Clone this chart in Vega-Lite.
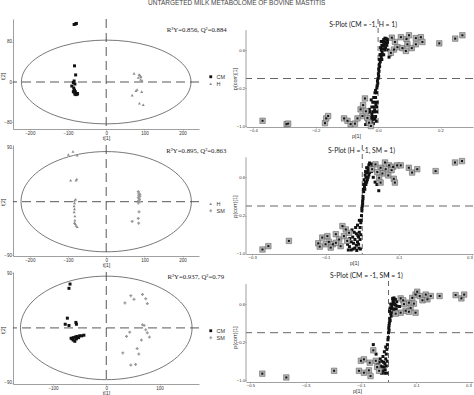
{
"$schema": "https://vega.github.io/schema/vega-lite/v6.json",
"padding": 0,
"title": {"text": "UNTARGETED MILK METABOLOME OF BOVINE MASTITIS", "anchor": "middle", "frame": "bounds", "fontSize": 6.5, "font": "Liberation Sans", "fontWeight": "normal", "color": "#444", "offset": 12},
"columns": 2,
"bounds": "flush",
"align": "each",
"spacing": {"row": 16, "column": 47},
"resolve": {"scale": {"x": "independent", "y": "independent", "color": "independent", "shape": "independent"}, "legend": {"color": "independent", "shape": "independent"}},
"datasets": {
"s1": [{"t1":-84,"t2":114,"g":"CM"},{"t1":-80,"t2":115,"g":"CM"},{"t1":-78,"t2":116,"g":"CM"},{"t1":-83,"t2":32,"g":"CM"},{"t1":-80,"t2":14,"g":"CM"},{"t1":-86,"t2":-1,"g":"CM"},{"t1":-84,"t2":2,"g":"CM"},{"t1":-82,"t2":-4,"g":"CM"},{"t1":-90,"t2":-8,"g":"CM"},{"t1":-85,"t2":-12,"g":"CM"},{"t1":-83,"t2":-16,"g":"CM"},{"t1":-81,"t2":-19,"g":"CM"},{"t1":-84,"t2":-20,"g":"CM"},{"t1":-80,"t2":-22,"g":"CM"},{"t1":-78,"t2":-23,"g":"CM"},{"t1":-76,"t2":-24,"g":"CM"},{"t1":-82,"t2":-24,"g":"CM"},{"t1":-79,"t2":-25,"g":"CM"},{"t1":-75,"t2":-23,"g":"CM"},{"t1":-86,"t2":-19,"g":"CM"},
{"t1":73,"t2":17,"g":"H"},{"t1":86,"t2":15,"g":"H"},{"t1":88,"t2":14,"g":"H"},{"t1":90,"t2":12,"g":"H"},{"t1":84,"t2":9,"g":"H"},{"t1":90,"t2":5,"g":"H"},{"t1":94,"t2":3,"g":"H"},{"t1":91,"t2":10,"g":"H"},{"t1":81,"t2":-15,"g":"H"},{"t1":78,"t2":-17,"g":"H"},{"t1":93,"t2":-19,"g":"H"},{"t1":68,"t2":-26,"g":"H"},{"t1":87,"t2":-42,"g":"H"},{"t1":97,"t2":-45,"g":"H"}],
"s2": [{"t1":-99,"t2":79,"g":"H"},{"t1":-87,"t2":84,"g":"H"},{"t1":-76,"t2":78,"g":"H"},{"t1":-93,"t2":36,"g":"H"},{"t1":-79,"t2":36,"g":"H"},{"t1":-77,"t2":38,"g":"H"},{"t1":-80,"t2":4,"g":"H"},{"t1":-83,"t2":2,"g":"H"},{"t1":-83,"t2":-2,"g":"H"},{"t1":-84,"t2":-7,"g":"H"},{"t1":-83,"t2":-12,"g":"H"},{"t1":-84,"t2":-17,"g":"H"},{"t1":-82,"t2":-24,"g":"H"},{"t1":-82,"t2":-31,"g":"H"},{"t1":-83,"t2":-35,"g":"H"},{"t1":-81,"t2":-37,"g":"H"},{"t1":-79,"t2":-40,"g":"H"},{"t1":-76,"t2":-42,"g":"H"},
{"t1":84,"t2":17,"g":"SM"},{"t1":86,"t2":14,"g":"SM"},{"t1":85,"t2":11,"g":"SM"},{"t1":88,"t2":9,"g":"SM"},{"t1":84,"t2":7,"g":"SM"},{"t1":87,"t2":4,"g":"SM"},{"t1":85,"t2":2,"g":"SM"},{"t1":88,"t2":0,"g":"SM"},{"t1":84,"t2":-2,"g":"SM"},{"t1":86,"t2":-17,"g":"SM"},{"t1":84,"t2":-28,"g":"SM"},{"t1":85,"t2":-36,"g":"SM"},{"t1":68,"t2":-33,"g":"SM"},{"t1":88,"t2":12,"g":"SM"},{"t1":86,"t2":6,"g":"SM"}],
"s3": [{"t1":-68,"t2":72,"g":"CM"},{"t1":-70,"t2":65,"g":"CM"},{"t1":-73,"t2":16,"g":"CM"},{"t1":-77,"t2":6,"g":"CM"},{"t1":-70,"t2":4,"g":"CM"},{"t1":-57,"t2":9,"g":"CM"},{"t1":-56,"t2":6,"g":"CM"},{"t1":-66,"t2":-17,"g":"CM"},{"t1":-62,"t2":-16,"g":"CM"},{"t1":-58,"t2":-15,"g":"CM"},{"t1":-55,"t2":-14,"g":"CM"},{"t1":-50,"t2":-13,"g":"CM"},{"t1":-46,"t2":-13,"g":"CM"},{"t1":-42,"t2":-12,"g":"CM"},{"t1":-59,"t2":-22,"g":"CM"},{"t1":-62,"t2":-20,"g":"CM"},{"t1":-52,"t2":-16,"g":"CM"},{"t1":-56,"t2":-18,"g":"CM"},{"t1":-64,"t2":-18,"g":"CM"},
{"t1":35,"t2":41,"g":"SM"},{"t1":46,"t2":53,"g":"SM"},{"t1":52,"t2":47,"g":"SM"},{"t1":68,"t2":55,"g":"SM"},{"t1":74,"t2":48,"g":"SM"},{"t1":77,"t2":40,"g":"SM"},{"t1":68,"t2":5,"g":"SM"},{"t1":71,"t2":4,"g":"SM"},{"t1":74,"t2":-3,"g":"SM"},{"t1":77,"t2":-8,"g":"SM"},{"t1":81,"t2":-15,"g":"SM"},{"t1":44,"t2":-7,"g":"SM"},{"t1":38,"t2":-14,"g":"SM"},{"t1":66,"t2":-20,"g":"SM"},{"t1":58,"t2":-34,"g":"SM"},{"t1":61,"t2":-43,"g":"SM"},{"t1":31,"t2":-41,"g":"SM"},{"t1":46,"t2":-61,"g":"SM"},{"t1":55,"t2":-60,"g":"SM"}],
"e1": [{"i":0,"t1":222,"t2":0},{"i":1,"t1":214.5,"t2":21.5},{"i":2,"t1":192.3,"t2":41.5},{"i":3,"t1":157,"t2":58.7},{"i":4,"t1":111,"t2":71.9},{"i":5,"t1":57.5,"t2":80.2},{"i":6,"t1":0,"t2":83},{"i":7,"t1":-57.5,"t2":80.2},{"i":8,"t1":-111,"t2":71.9},{"i":9,"t1":-157,"t2":58.7},{"i":10,"t1":-192.3,"t2":41.5},{"i":11,"t1":-214.5,"t2":21.5},{"i":12,"t1":-222,"t2":0},{"i":13,"t1":-214.5,"t2":-21.5},{"i":14,"t1":-192.3,"t2":-41.5},{"i":15,"t1":-157,"t2":-58.7},{"i":16,"t1":-111,"t2":-71.9},{"i":17,"t1":-57.5,"t2":-80.2},{"i":18,"t1":0,"t2":-83},{"i":19,"t1":57.5,"t2":-80.2},{"i":20,"t1":111,"t2":-71.9},{"i":21,"t1":157,"t2":-58.7},{"i":22,"t1":192.3,"t2":-41.5},{"i":23,"t1":214.5,"t2":-21.5}],
"e2": [{"i":0,"t1":223,"t2":0},{"i":1,"t1":215.4,"t2":21.8},{"i":2,"t1":193.1,"t2":42},{"i":3,"t1":157.7,"t2":59.4},{"i":4,"t1":111.5,"t2":72.7},{"i":5,"t1":57.8,"t2":81.1},{"i":6,"t1":0,"t2":84},{"i":7,"t1":-57.8,"t2":81.1},{"i":8,"t1":-111.5,"t2":72.7},{"i":9,"t1":-157.7,"t2":59.4},{"i":10,"t1":-193.1,"t2":42},{"i":11,"t1":-215.4,"t2":21.8},{"i":12,"t1":-223,"t2":0},{"i":13,"t1":-215.4,"t2":-21.8},{"i":14,"t1":-193.1,"t2":-42},{"i":15,"t1":-157.7,"t2":-59.4},{"i":16,"t1":-111.5,"t2":-72.7},{"i":17,"t1":-57.8,"t2":-81.1},{"i":18,"t1":0,"t2":-84},{"i":19,"t1":57.8,"t2":-81.1},{"i":20,"t1":111.5,"t2":-72.7},{"i":21,"t1":157.7,"t2":-59.4},{"i":22,"t1":193.1,"t2":-42},{"i":23,"t1":215.4,"t2":-21.8}],
"e3": [{"i":0,"t1":161,"t2":0},{"i":1,"t1":155.5,"t2":22},{"i":2,"t1":139.4,"t2":42.5},{"i":3,"t1":113.8,"t2":60.1},{"i":4,"t1":80.5,"t2":73.6},{"i":5,"t1":41.7,"t2":82.1},{"i":6,"t1":0,"t2":85},{"i":7,"t1":-41.7,"t2":82.1},{"i":8,"t1":-80.5,"t2":73.6},{"i":9,"t1":-113.8,"t2":60.1},{"i":10,"t1":-139.4,"t2":42.5},{"i":11,"t1":-155.5,"t2":22},{"i":12,"t1":-161,"t2":0},{"i":13,"t1":-155.5,"t2":-22},{"i":14,"t1":-139.4,"t2":-42.5},{"i":15,"t1":-113.8,"t2":-60.1},{"i":16,"t1":-80.5,"t2":-73.6},{"i":17,"t1":-41.7,"t2":-82.1},{"i":18,"t1":0,"t2":-85},{"i":19,"t1":41.7,"t2":-82.1},{"i":20,"t1":80.5,"t2":-73.6},{"i":21,"t1":113.8,"t2":-60.1},{"i":22,"t1":139.4,"t2":-42.5},{"i":23,"t1":155.5,"t2":-22}],
"b1": [{"p":0.002,"c":0.2},{"p":0.004,"c":0.3},{"p":0.006,"c":0.4},{"p":0.008,"c":0.5},{"p":0.01,"c":0.6},{"p":0.012,"c":0.7},{"p":0.015,"c":0.78},{"p":0.018,"c":0.82},{"p":0.022,"c":0.85},{"p":0.026,"c":0.84},{"p":0.03,"c":0.82},{"p":0.025,"c":0.75},{"p":0.02,"c":0.7},{"p":0.016,"c":0.62},{"p":0.013,"c":0.55},{"p":0.01,"c":0.45},{"p":0.007,"c":0.35},{"p":0.012,"c":0.4},{"p":0.018,"c":0.5},{"p":0.022,"c":0.6},{"p":0.028,"c":0.7},{"p":0.015,"c":0.68},{"p":0.006,"c":0.5},{"p":0.004,"c":0.4},{"p":0.01,"c":0.78},{"p":0.02,"c":0.8},{"p":0.035,"c":0.45},{"p":0.04,"c":0.5},{"p":0.032,"c":0.6},{"p":0.008,"c":0.65},{"p":0.024,"c":0.65},{"p":0.014,"c":0.5},{"p":0.018,"c":0.76},{"p":0.03,"c":0.76},{"p":0.005,"c":0.25},
{"p":0,"c":0},{"p":0.001,"c":0.1},{"p":-0.001,"c":-0.1},{"p":0.002,"c":0.05},{"p":-0.002,"c":-0.05},{"p":-0.003,"c":-0.15},{"p":0.003,"c":0.15},{"p":-0.004,"c":-0.2},
{"p":-0.005,"c":-0.3},{"p":-0.008,"c":-0.4},{"p":-0.01,"c":-0.5},{"p":-0.012,"c":-0.6},{"p":-0.015,"c":-0.7},{"p":-0.018,"c":-0.8},{"p":-0.02,"c":-0.88},{"p":-0.025,"c":-0.92},{"p":-0.03,"c":-0.95},{"p":-0.035,"c":-0.9},{"p":-0.03,"c":-0.8},{"p":-0.025,"c":-0.7},{"p":-0.02,"c":-0.6},{"p":-0.017,"c":-0.5},{"p":-0.014,"c":-0.4},{"p":-0.01,"c":-0.3},{"p":-0.008,"c":-0.25},{"p":-0.012,"c":-0.7},{"p":-0.008,"c":-0.8},{"p":-0.006,"c":-0.9},{"p":-0.015,"c":-0.95},{"p":-0.038,"c":-0.85},{"p":-0.028,"c":-0.65},{"p":-0.022,"c":-0.45},{"p":-0.01,"c":-0.85},{"p":-0.005,"c":-0.7},{"p":-0.004,"c":-0.6},{"p":-0.003,"c":-0.5},{"p":-0.02,"c":-0.75},{"p":-0.04,"c":-0.97},{"p":-0.016,"c":-0.86},{"p":-0.024,"c":-0.82},{"p":-0.032,"c":-0.72},{"p":-0.007,"c":-0.55},{"p":-0.011,"c":-0.66}],
"h1": [{"p":0.044,"c":0.86},{"p":0.054,"c":0.77},{"p":0.073,"c":0.87},{"p":0.091,"c":0.83},{"p":0.099,"c":0.91},{"p":0.121,"c":0.85},{"p":0.137,"c":0.87},{"p":0.142,"c":0.77},{"p":0.051,"c":0.61},{"p":0.062,"c":0.66},{"p":0.078,"c":0.64},{"p":0.094,"c":0.72},{"p":0.108,"c":0.64},{"p":0.089,"c":0.58},{"p":0.121,"c":0.72},{"p":0.041,"c":0.54},{"p":0.196,"c":0.74},{"p":0.247,"c":0.84},{"p":0.27,"c":0.91},
{"p":-0.37,"c":-0.89},{"p":-0.293,"c":-0.96},{"p":-0.288,"c":-0.95},{"p":-0.17,"c":-0.94},{"p":-0.166,"c":-0.84},{"p":-0.16,"c":-0.79},{"p":-0.109,"c":-0.84},{"p":-0.098,"c":-0.89},{"p":-0.088,"c":-0.96},{"p":-0.074,"c":-0.95},{"p":-0.056,"c":-0.65},{"p":-0.048,"c":-0.56},{"p":-0.042,"c":-0.42},{"p":-0.05,"c":-0.79},{"p":-0.034,"c":-0.83},{"p":-0.029,"c":-0.93},{"p":-0.066,"c":-0.84},{"p":-0.039,"c":-0.69},{"p":-0.023,"c":-1.0}],
"b2": [{"p":0.002,"c":0.2},{"p":0.004,"c":0.3},{"p":0.006,"c":0.4},{"p":0.008,"c":0.5},{"p":0.01,"c":0.6},{"p":0.012,"c":0.7},{"p":0.015,"c":0.8},{"p":0.018,"c":0.86},{"p":0.02,"c":0.9},{"p":0.025,"c":0.88},{"p":0.028,"c":0.82},{"p":0.022,"c":0.75},{"p":0.018,"c":0.65},{"p":0.014,"c":0.55},{"p":0.01,"c":0.45},{"p":0.007,"c":0.35},{"p":0.012,"c":0.5},{"p":0.016,"c":0.6},{"p":0.02,"c":0.7},{"p":0.025,"c":0.72},{"p":0.005,"c":0.55},{"p":0.008,"c":0.65},{"p":0.012,"c":0.8},{"p":0.03,"c":0.6},{"p":0.04,"c":0.45},{"p":0.045,"c":0.32},{"p":0.035,"c":0.5},{"p":0.004,"c":0.45},{"p":0.016,"c":0.75},{"p":0.024,"c":0.8},{"p":0.009,"c":0.72},{"p":0.003,"c":0.35},
{"p":0,"c":0},{"p":0.001,"c":0.1},{"p":-0.001,"c":-0.1},{"p":0.002,"c":0.15},{"p":-0.002,"c":-0.2},{"p":-0.003,"c":-0.3},{"p":0.001,"c":0.05},{"p":-0.001,"c":-0.05},
{"p":-0.004,"c":-0.35},{"p":-0.006,"c":-0.45},{"p":-0.008,"c":-0.55},{"p":-0.01,"c":-0.65},{"p":-0.013,"c":-0.75},{"p":-0.016,"c":-0.82},{"p":-0.02,"c":-0.88},{"p":-0.025,"c":-0.9},{"p":-0.03,"c":-0.92},{"p":-0.035,"c":-0.85},{"p":-0.03,"c":-0.75},{"p":-0.026,"c":-0.65},{"p":-0.022,"c":-0.55},{"p":-0.018,"c":-0.45},{"p":-0.013,"c":-0.4},{"p":-0.008,"c":-0.3},{"p":-0.01,"c":-0.8},{"p":-0.006,"c":-0.7},{"p":-0.004,"c":-0.6},{"p":-0.02,"c":-0.7},{"p":-0.04,"c":-0.8},{"p":-0.038,"c":-0.92},{"p":-0.015,"c":-0.93},{"p":-0.005,"c":-0.9},{"p":-0.028,"c":-0.5},{"p":-0.012,"c":-0.62},{"p":-0.034,"c":-0.68},{"p":-0.024,"c":-0.78},{"p":-0.016,"c":-0.58},{"p":-0.009,"c":-0.88}],
"h2": [{"p":0.036,"c":0.87},{"p":0.05,"c":0.8},{"p":0.062,"c":0.91},{"p":0.073,"c":0.85},{"p":0.084,"c":0.82},{"p":0.095,"c":0.85},{"p":0.105,"c":0.85},{"p":0.064,"c":0.77},{"p":0.08,"c":0.75},{"p":0.055,"c":0.68},{"p":0.071,"c":0.64},{"p":0.086,"c":0.57},{"p":0.046,"c":0.59},{"p":0.05,"c":0.49},{"p":0.089,"c":0.49},{"p":0.027,"c":0.77},{"p":0.041,"c":0.71},{"p":0.127,"c":0.8},{"p":0.136,"c":0.7},{"p":0.15,"c":0.77},{"p":0.2,"c":0.73},{"p":0.253,"c":0.91},{"p":0.272,"c":0.94},
{"p":-0.272,"c":-0.91},{"p":-0.256,"c":-0.84},{"p":-0.2,"c":-0.73},{"p":-0.12,"c":-0.78},{"p":-0.116,"c":-0.85},{"p":-0.109,"c":-0.66},{"p":-0.095,"c":-0.63},{"p":-0.091,"c":-0.75},{"p":-0.08,"c":-0.8},{"p":-0.072,"c":-0.59},{"p":-0.063,"c":-0.7},{"p":-0.054,"c":-0.42},{"p":-0.045,"c":-0.49},{"p":-0.059,"c":-0.84},{"p":-0.05,"c":-0.63},{"p":-0.036,"c":-0.56},{"p":-0.041,"c":-0.73},{"p":-0.086,"c":-0.87},{"p":-0.1,"c":-0.8},{"p":-0.072,"c":-0.77}],
"b3": [{"p":0.003,"c":0.2},{"p":0.005,"c":0.3},{"p":0.008,"c":0.4},{"p":0.01,"c":0.5},{"p":0.013,"c":0.6},{"p":0.016,"c":0.68},{"p":0.02,"c":0.73},{"p":0.025,"c":0.7},{"p":0.03,"c":0.65},{"p":0.022,"c":0.6},{"p":0.018,"c":0.5},{"p":0.014,"c":0.42},{"p":0.01,"c":0.35},{"p":0.006,"c":0.25},{"p":0.012,"c":0.55},{"p":0.02,"c":0.45},{"p":0.028,"c":0.5},{"p":0.035,"c":0.42},{"p":0.04,"c":0.55},{"p":0.008,"c":0.6},{"p":0.015,"c":0.72},{"p":0.025,"c":0.58},{"p":0.004,"c":0.45},{"p":0.018,"c":0.64},{"p":0.03,"c":0.56},{"p":0.006,"c":0.52},
{"p":0,"c":0},{"p":0.001,"c":0.1},{"p":-0.001,"c":-0.1},{"p":0.002,"c":0.05},{"p":-0.002,"c":-0.15},{"p":0.002,"c":0.15},
{"p":-0.004,"c":-0.25},{"p":-0.006,"c":-0.35},{"p":-0.008,"c":-0.45},{"p":-0.01,"c":-0.55},{"p":-0.013,"c":-0.65},{"p":-0.016,"c":-0.72},{"p":-0.02,"c":-0.8},{"p":-0.025,"c":-0.85},{"p":-0.03,"c":-0.8},{"p":-0.028,"c":-0.7},{"p":-0.024,"c":-0.6},{"p":-0.02,"c":-0.5},{"p":-0.015,"c":-0.4},{"p":-0.01,"c":-0.3},{"p":-0.035,"c":-0.75},{"p":-0.04,"c":-0.65},{"p":-0.012,"c":-0.78},{"p":-0.008,"c":-0.7},{"p":-0.005,"c":-0.6},{"p":-0.018,"c":-0.62},{"p":-0.045,"c":-0.45},{"p":-0.055,"c":-0.25},{"p":-0.03,"c":-0.55},{"p":-0.006,"c":-0.85},{"p":-0.022,"c":-0.72},{"p":-0.014,"c":-0.85},{"p":-0.034,"c":-0.62}],
"h3": [{"p":0.044,"c":0.72},{"p":0.053,"c":0.68},{"p":0.074,"c":0.63},{"p":0.086,"c":0.73},{"p":0.098,"c":0.8},{"p":0.104,"c":0.86},{"p":0.113,"c":0.77},{"p":0.123,"c":0.68},{"p":0.092,"c":0.61},{"p":0.08,"c":0.52},{"p":0.062,"c":0.46},{"p":0.044,"c":0.42},{"p":0.026,"c":0.4},{"p":0.098,"c":0.42},{"p":0.074,"c":0.44},{"p":0.056,"c":0.6},{"p":0.141,"c":0.7},{"p":0.135,"c":0.8},{"p":0.153,"c":0.77},{"p":0.185,"c":0.77},{"p":0.243,"c":0.79},{"p":0.264,"c":0.72},{"p":0.274,"c":0.8},
{"p":-0.457,"c":-0.86},{"p":-0.37,"c":-0.94},{"p":-0.197,"c":-0.8},{"p":-0.1,"c":-0.59},{"p":-0.089,"c":-0.56},{"p":-0.107,"c":-0.8},{"p":-0.089,"c":-0.84},{"p":-0.071,"c":-0.79},{"p":-0.068,"c":-0.63},{"p":-0.065,"c":-0.91},{"p":-0.055,"c":-0.37},{"p":-0.046,"c":-0.59},{"p":-0.041,"c":-0.72},{"p":-0.034,"c":-0.8}]
},
"concat": [
{"width": 186, "height": 110, "layer": [
 {"data": {"name": "e1"}, "mark": {"type": "line", "interpolate": "cardinal-closed", "color": "#555", "strokeWidth": 0.8}, "encoding": {
   "x": {"field": "t1", "type": "quantitative", "scale": {"domain": [-244, 243], "nice": false, "zero": false}, "axis": {"values": [-200,-100,0,100,200], "title": "t[1]"}},
   "y": {"field": "t2", "type": "quantitative", "scale": {"domain": [-93.1, 124.8], "nice": false, "zero": false}, "axis": {"values": [-80,-40,0,40,80,120], "title": "t[2]", "titleX": -9, "titleY": 57, "titleBaseline": "alphabetic"}},
   "order": {"field": "i"}}},
 {"data": {"values": [{}]}, "mark": {"type": "rule", "strokeDash": [9,5], "color": "#444", "strokeWidth": 0.9}, "encoding": {"y": {"datum": 0}}},
 {"data": {"values": [{}]}, "mark": {"type": "rule", "strokeDash": [9,5], "color": "#444", "strokeWidth": 0.9}, "encoding": {"x": {"datum": 0}}},
 {"data": {"name": "s1"}, "mark": {"type": "point", "filled": true, "size": 9, "opacity": 1}, "encoding": {
   "x": {"field": "t1", "type": "quantitative"}, "y": {"field": "t2", "type": "quantitative"},
   "color": {"field": "g", "type": "nominal", "scale": {"range": ["#111111", "#8c8c8c"]}, "legend": {"title": null, "orient": "none", "legendX": 195, "legendY": 55}},
   "shape": {"field": "g", "type": "nominal", "scale": {"range": ["square", "triangle-up"]}, "legend": {"title": null, "orient": "none", "legendX": 195, "legendY": 55}}}},
 {"data": {"values": [{}]}, "mark": {"type": "text", "font": "Liberation Serif", "fontSize": 6.8, "color": "#222"}, "encoding": {"x": {"datum": 237}, "y": {"datum": 103}, "text": {"value": "R²Y=0.856, Q²=0.884"}}}
]},
{"width": 227, "height": 108, "layer": [
 {"data": {"values": [{}]}, "mark": {"type": "rule", "strokeDash": [8,5], "color": "#555", "strokeWidth": 0.9}, "encoding": {"y": {"datum": 0}}},
 {"data": {"values": [{}]}, "mark": {"type": "rule", "strokeDash": [5,4], "color": "#555", "strokeWidth": 0.9}, "encoding": {"x": {"datum": 0}}},
 {"data": {"values": [{}]}, "mark": {"type": "rule", "color": "#777", "strokeWidth": 0.7}, "encoding": {"x": {"datum": -0.423}, "y": {"datum": -1.021}, "y2": {"datum": 1.02}}},
 {"data": {"name": "b1"}, "mark": {"type": "square", "size": 9, "color": "#111", "opacity": 1}, "encoding": {
   "x": {"field": "p", "type": "quantitative", "scale": {"domain": [-0.423, 0.304], "nice": false, "zero": false}, "axis": {"values": [-0.4,-0.3,-0.2,-0.1,0,0.1,0.2,0.3], "format": ".1f", "title": "p[1]", "titleX": 110, "labelFlush": 4, "labelFontSize": 4.2}},
   "y": {"field": "c", "type": "quantitative", "scale": {"domain": [-1.021, 1.253], "nice": false, "zero": false}, "axis": {"values": [-1,-0.8,-0.6,-0.4,-0.2,0,0.2,0.4,0.6,0.8,1], "format": ".1f", "domain": false, "title": "p(corr)[1]", "titleX": -9.5, "titleY": 59.5, "titleBaseline": "alphabetic", "labelFontSize": 4.2}}}},
 {"data": {"name": "h1"}, "mark": {"type": "square", "size": 30, "fill": "#b3b3b3", "stroke": "#555", "strokeWidth": 0.5, "opacity": 1}, "encoding": {"x": {"field": "p", "type": "quantitative"}, "y": {"field": "c", "type": "quantitative"}}},
 {"data": {"name": "h1"}, "mark": {"type": "square", "size": 4, "color": "#111", "opacity": 1}, "encoding": {"x": {"field": "p", "type": "quantitative"}, "y": {"field": "c", "type": "quantitative"}}},
 {"data": {"values": [{}]}, "mark": {"type": "text", "font": "Lato", "fontSize": 6.8, "color": "#222"}, "encoding": {"x": {"datum": -0.048}, "y": {"datum": 1.137}, "text": {"value": "S-Plot (CM = -1, H = 1)"}}}
]},
{"width": 186, "height": 111, "layer": [
 {"data": {"name": "e2"}, "mark": {"type": "line", "interpolate": "cardinal-closed", "color": "#555", "strokeWidth": 0.8}, "encoding": {
   "x": {"field": "t1", "type": "quantitative", "scale": {"domain": [-244, 243], "nice": false, "zero": false}, "axis": {"values": [-200,-100,0,100,200], "title": "t[1]"}},
   "y": {"field": "t2", "type": "quantitative", "scale": {"domain": [-91, 95], "nice": false, "zero": false}, "axis": {"values": [-90,-60,-30,0,30,60,90], "title": "t[2]", "titleX": -9, "titleY": 57, "titleBaseline": "alphabetic"}},
   "order": {"field": "i"}}},
 {"data": {"values": [{}]}, "mark": {"type": "rule", "strokeDash": [9,5], "color": "#444", "strokeWidth": 0.9}, "encoding": {"y": {"datum": 0}}},
 {"data": {"values": [{}]}, "mark": {"type": "rule", "strokeDash": [9,5], "color": "#444", "strokeWidth": 0.9}, "encoding": {"x": {"datum": 0}}},
 {"data": {"name": "s2"}, "mark": {"type": "point", "filled": true, "size": 9, "opacity": 1}, "encoding": {
   "x": {"field": "t1", "type": "quantitative"}, "y": {"field": "t2", "type": "quantitative"},
   "color": {"field": "g", "type": "nominal", "scale": {"range": ["#8c8c8c", "#9a9a9a"]}, "legend": {"title": null, "orient": "none", "legendX": 195, "legendY": 56}},
   "shape": {"field": "g", "type": "nominal", "scale": {"range": ["triangle-up", "cross"]}, "legend": {"title": null, "orient": "none", "legendX": 195, "legendY": 56}}}},
 {"data": {"values": [{}]}, "mark": {"type": "text", "font": "Liberation Serif", "fontSize": 6.8, "color": "#222"}, "encoding": {"x": {"datum": 236}, "y": {"datum": 85}, "text": {"value": "R²Y=0.895, Q²=0.863"}}}
]},
{"width": 227, "height": 109, "layer": [
 {"data": {"values": [{}]}, "mark": {"type": "rule", "strokeDash": [8,5], "color": "#555", "strokeWidth": 0.9}, "encoding": {"y": {"datum": 0}}},
 {"data": {"values": [{}]}, "mark": {"type": "rule", "strokeDash": [5,4], "color": "#555", "strokeWidth": 0.9}, "encoding": {"x": {"datum": 0}}},
 {"data": {"values": [{}]}, "mark": {"type": "rule", "color": "#777", "strokeWidth": 0.7}, "encoding": {"x": {"datum": -0.317}, "y": {"datum": -1.004}, "y2": {"datum": 1.02}}},
 {"data": {"name": "b2"}, "mark": {"type": "square", "size": 9, "color": "#111", "opacity": 1}, "encoding": {
   "x": {"field": "p", "type": "quantitative", "scale": {"domain": [-0.317, 0.302], "nice": false, "zero": false}, "axis": {"values": [-0.3,-0.2,-0.1,0,0.1,0.2,0.3], "format": ".1f", "title": "p[1]", "titleX": 108, "labelFlush": 4, "labelFontSize": 4.2}},
   "y": {"field": "c", "type": "quantitative", "scale": {"domain": [-1.004, 1.276], "nice": false, "zero": false}, "axis": {"values": [-1,-0.8,-0.6,-0.4,-0.2,0,0.2,0.4,0.6,0.8,1], "format": ".1f", "domain": false, "title": "p(corr)[1]", "titleX": -9.5, "titleY": 61, "titleBaseline": "alphabetic", "labelFontSize": 4.2}}}},
 {"data": {"name": "h2"}, "mark": {"type": "square", "size": 30, "fill": "#b3b3b3", "stroke": "#555", "strokeWidth": 0.5, "opacity": 1}, "encoding": {"x": {"field": "p", "type": "quantitative"}, "y": {"field": "c", "type": "quantitative"}}},
 {"data": {"name": "h2"}, "mark": {"type": "square", "size": 4, "color": "#111", "opacity": 1}, "encoding": {"x": {"field": "p", "type": "quantitative"}, "y": {"field": "c", "type": "quantitative"}}},
 {"data": {"values": [{}]}, "mark": {"type": "text", "font": "Lato", "fontSize": 6.8, "color": "#222"}, "encoding": {"x": {"datum": -0.002}, "y": {"datum": 1.15}, "text": {"value": "S-Plot (H = -1, SM = 1)"}}}
]},
{"width": 186, "height": 112, "layer": [
 {"data": {"name": "e3"}, "mark": {"type": "line", "interpolate": "cardinal-closed", "color": "#555", "strokeWidth": 0.8}, "encoding": {
   "x": {"field": "t1", "type": "quantitative", "scale": {"domain": [-175, 174], "nice": false, "zero": false}, "axis": {"values": [-100,0,100], "title": "t[1]"}},
   "y": {"field": "t2", "type": "quantitative", "scale": {"domain": [-92.1, 91.8], "nice": false, "zero": false}, "axis": {"values": [-90,-60,-30,0,30,60,90], "title": "t[2]", "titleX": -9, "titleY": 58, "titleBaseline": "alphabetic"}},
   "order": {"field": "i"}}},
 {"data": {"values": [{}]}, "mark": {"type": "rule", "strokeDash": [9,5], "color": "#444", "strokeWidth": 0.9}, "encoding": {"y": {"datum": 0}}},
 {"data": {"values": [{}]}, "mark": {"type": "rule", "strokeDash": [9,5], "color": "#444", "strokeWidth": 0.9}, "encoding": {"x": {"datum": 0}}},
 {"data": {"name": "s3"}, "mark": {"type": "point", "filled": true, "size": 9, "opacity": 1}, "encoding": {
   "x": {"field": "t1", "type": "quantitative"}, "y": {"field": "t2", "type": "quantitative"},
   "color": {"field": "g", "type": "nominal", "scale": {"range": ["#111111", "#9a9a9a"]}, "legend": {"title": null, "orient": "none", "legendX": 195, "legendY": 56}},
   "shape": {"field": "g", "type": "nominal", "scale": {"range": ["square", "cross"]}, "legend": {"title": null, "orient": "none", "legendX": 195, "legendY": 56}}}},
 {"data": {"values": [{}]}, "mark": {"type": "text", "font": "Liberation Serif", "fontSize": 6.8, "color": "#222"}, "encoding": {"x": {"datum": 168}, "y": {"datum": 84}, "text": {"value": "R²Y=0.937, Q²=0.79"}}}
]},
{"width": 227, "height": 110, "layer": [
 {"data": {"values": [{}]}, "mark": {"type": "rule", "strokeDash": [8,5], "color": "#555", "strokeWidth": 0.9}, "encoding": {"y": {"datum": 0}}},
 {"data": {"values": [{}]}, "mark": {"type": "rule", "strokeDash": [5,4], "color": "#555", "strokeWidth": 0.9}, "encoding": {"x": {"datum": 0}}},
 {"data": {"values": [{}]}, "mark": {"type": "rule", "color": "#777", "strokeWidth": 0.7}, "encoding": {"x": {"datum": -0.516}, "y": {"datum": -1.035}, "y2": {"datum": 1.02}}},
 {"data": {"name": "b3"}, "mark": {"type": "square", "size": 9, "color": "#111", "opacity": 1}, "encoding": {
   "x": {"field": "p", "type": "quantitative", "scale": {"domain": [-0.516, 0.306], "nice": false, "zero": false}, "axis": {"values": [-0.5,-0.4,-0.3,-0.2,-0.1,0,0.1,0.2,0.3], "format": ".1f", "title": "p[1]", "titleX": 111, "labelFlush": 4, "labelFontSize": 4.2}},
   "y": {"field": "c", "type": "quantitative", "scale": {"domain": [-1.035, 1.274], "nice": false, "zero": false}, "axis": {"values": [-1,-0.8,-0.6,-0.4,-0.2,0,0.2,0.4,0.6,0.8,1], "format": ".1f", "domain": false, "title": "p(corr)[1]", "titleX": -9.5, "titleY": 65, "titleBaseline": "alphabetic", "labelFontSize": 4.2}}}},
 {"data": {"name": "h3"}, "mark": {"type": "square", "size": 30, "fill": "#b3b3b3", "stroke": "#555", "strokeWidth": 0.5, "opacity": 1}, "encoding": {"x": {"field": "p", "type": "quantitative"}, "y": {"field": "c", "type": "quantitative"}}},
 {"data": {"name": "h3"}, "mark": {"type": "square", "size": 4, "color": "#111", "opacity": 1}, "encoding": {"x": {"field": "p", "type": "quantitative"}, "y": {"field": "c", "type": "quantitative"}}},
 {"data": {"values": [{}]}, "mark": {"type": "text", "font": "Lato", "fontSize": 6.8, "color": "#222"}, "encoding": {"x": {"datum": -0.08}, "y": {"datum": 1.19}, "text": {"value": "S-Plot (CM = -1, SM = 1)"}}}
]}
],
"config": {
 "view": {"stroke": null},
 "font": "Liberation Sans",
 "axis": {"grid": false, "labelOverlap": false, "domainColor": "#777", "domainWidth": 0.7, "tickColor": "#777", "tickWidth": 0.6, "tickSize": 1, "labelFontSize": 4.5, "labelColor": "#333", "labelPadding": 0.5, "titleFontSize": 5.5, "titleFontWeight": "normal", "titleColor": "#333", "titlePadding": 0.5, "labelFont": "Liberation Sans", "titleFont": "Liberation Sans"},
 "legend": {"labelFontSize": 5.5, "labelFont": "Liberation Sans", "labelColor": "#333", "symbolSize": 8, "rowPadding": 0, "labelOffset": 3, "padding": 0, "symbolStrokeWidth": 0.5}
}
}
